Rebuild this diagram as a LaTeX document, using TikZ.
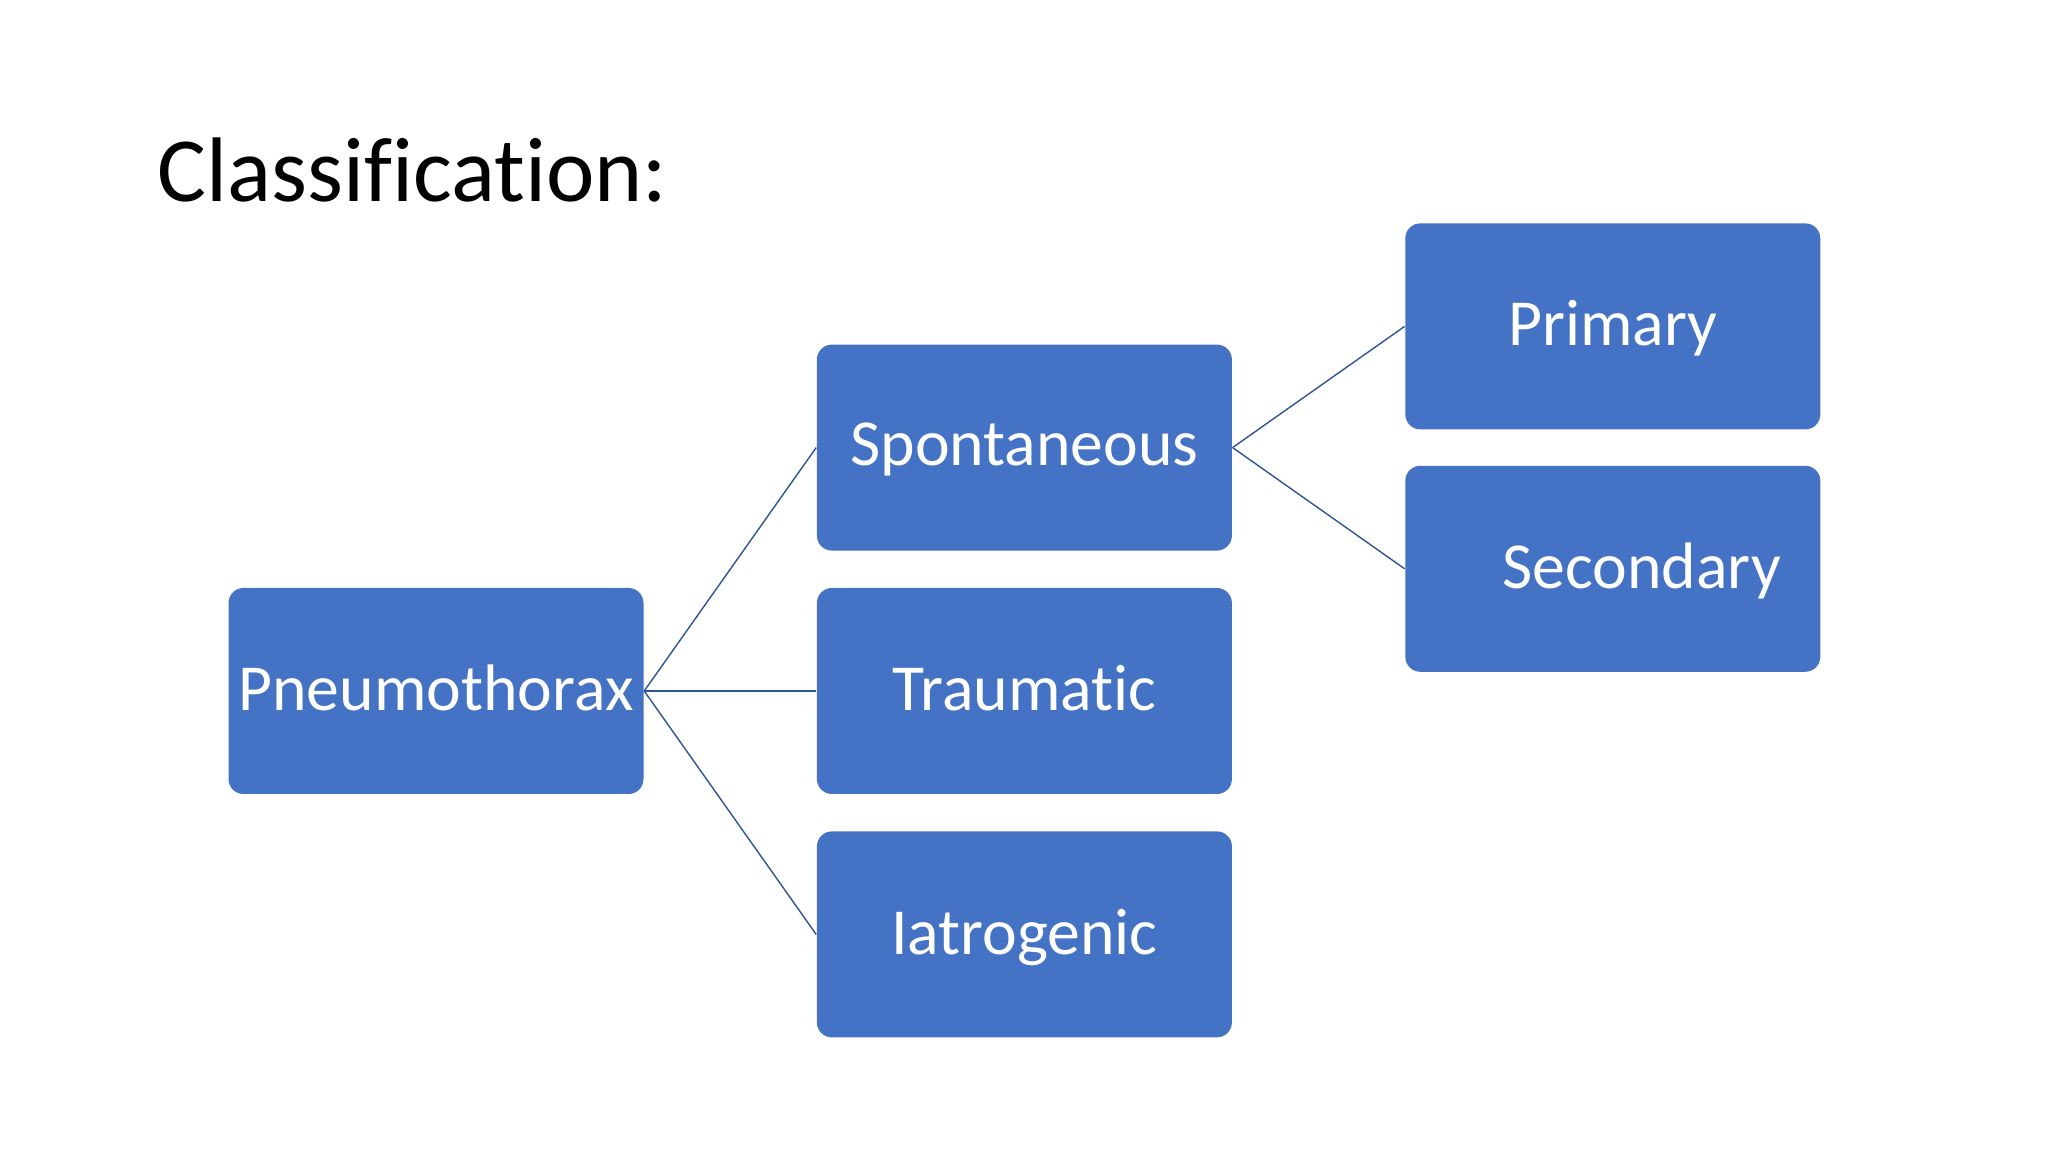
\documentclass[tikz,border=0pt]{standalone}
\usepackage{fontspec}
\setmainfont[Ligatures=NoCommon]{Carlito}
\usepackage{xcolor}
\usepackage{tikz}
\usetikzlibrary{positioning}
\definecolor{boxblue}{HTML}{4472C4}
\definecolor{linkblue}{HTML}{2F5597}
\tikzset{
  cls/.style={fill=boxblue,rounded corners=1.5mm,minimum width=41.5mm,minimum height=20.6mm,
    inner sep=0pt,text=white,text depth=0.6mm,font=\fontsize{18.7}{22}\selectfont},
  link/.style={draw=linkblue,line width=0.4pt}
}
\begin{document}
\begin{tikzpicture}[x=0.1mm,y=-0.1mm]
\useasboundingbox[fill=white] (0,0) rectangle (2048,1152);
\node[anchor=base west,inner sep=0pt,font=\fontsize{26.1}{30}\selectfont] (title) at (157,202) {Classification:};
% root and first level
\node[cls] (pneu) at (436,691) {Pneumothorax};
\node[cls,right=17.2mm of pneu] (trau) {Traumatic};
\node[cls,above=3.6mm of trau] (spont) {Spontaneous};
\node[cls,below=3.6mm of trau] (iatro) {Iatrogenic};
% second level
\coordinate[right=17.2mm of spont] (sp);
\node[cls,above right=1.75mm and 0mm of sp] (prim) {Primary};
\node[cls,below right=1.75mm and 0mm of sp] (sec) {\hspace*{5.8mm}Secondary};
\foreach \t in {spont,trau,iatro} \draw[link] (pneu.east) -- (\t.west);
\foreach \t in {prim,sec} \draw[link] (spont.east) -- (\t.west);
\end{tikzpicture}
\end{document}
